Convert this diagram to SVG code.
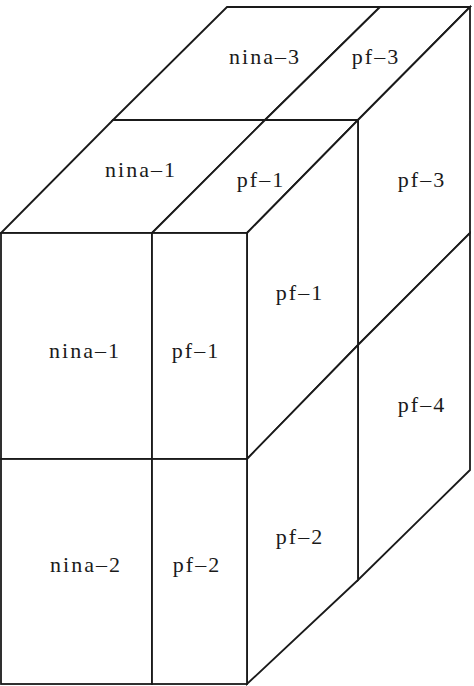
<svg xmlns="http://www.w3.org/2000/svg" width="474" height="686" viewBox="0 0 474 686">
<style>
.face{fill:#ffffff;stroke:#1a1a1a;stroke-width:1.8;stroke-linejoin:miter}
.lbl{font-family:"Liberation Serif","DejaVu Serif",serif;font-size:22px;letter-spacing:2px;fill:#1a1a1a;text-anchor:middle}
</style>
<rect x="0" y="0" width="474" height="686" fill="#ffffff"/>
<g id="top-nina-3"><polygon class="face" points="113,120 227,7 380,7 265,120"/><text class="lbl" x="265" y="64">nina–3</text></g>
<g id="top-pf-3"><polygon class="face" points="265,120 380,7 470,7 358,120"/><text class="lbl" x="376" y="64">pf–3</text></g>
<g id="top-nina-1"><polygon class="face" points="1,233 113,120 265,120 152,233"/><text class="lbl" x="141" y="177">nina–1</text></g>
<g id="top-pf-1"><polygon class="face" points="152,233 265,120 358,120 247,233"/><text class="lbl" x="261" y="187">pf–1</text></g>
<g id="side-pf-3"><polygon class="face" points="358,120 470,7 470,233 358,345"/><text class="lbl" x="422" y="187">pf–3</text></g>
<g id="side-pf-4"><polygon class="face" points="358,345 470,233 470,470 358,580"/><text class="lbl" x="422" y="412">pf–4</text></g>
<g id="side-pf-1"><polygon class="face" points="247,233 358,120 358,345 247,459"/><text class="lbl" x="300" y="300">pf–1</text></g>
<g id="side-pf-2"><polygon class="face" points="247,459 358,345 358,580 247,684"/><text class="lbl" x="300" y="544">pf–2</text></g>
<g id="front-nina-1"><rect class="face" x="1" y="233" width="151" height="226"/><text class="lbl" x="85" y="358">nina–1</text></g>
<g id="front-pf-1"><rect class="face" x="152" y="233" width="95" height="226"/><text class="lbl" x="196" y="358">pf–1</text></g>
<g id="front-nina-2"><rect class="face" x="1" y="459" width="151" height="225"/><text class="lbl" x="86" y="572">nina–2</text></g>
<g id="front-pf-2"><rect class="face" x="152" y="459" width="95" height="225"/><text class="lbl" x="197" y="572">pf–2</text></g>
<g id="connectors"></g>
</svg>
